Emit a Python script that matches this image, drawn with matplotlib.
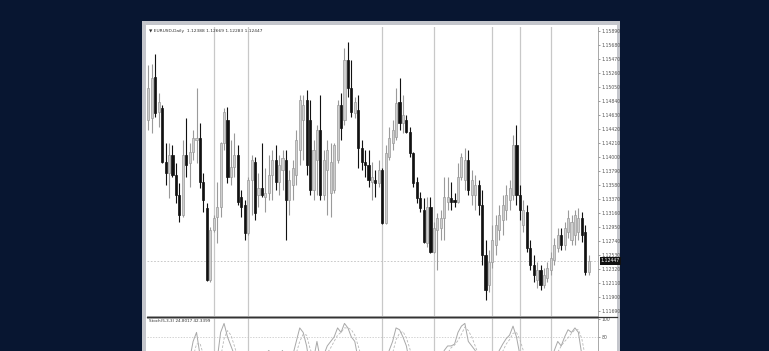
import matplotlib
matplotlib.use("Agg")
import matplotlib.pyplot as plt
from matplotlib.patches import Rectangle
from matplotlib.lines import Line2D

# ---------------- data (EURUSD daily candles) ----------------
opens = [1.14562, 1.14592, 1.15207, 1.14682, 1.14742, 1.13932, 1.13767, 1.14037, 1.13737, 1.13437,
         1.13137, 1.14037, 1.13917, 1.14082, 1.14262, 1.14292, 1.13632, 1.13242, 1.12162, 1.12912,
         1.13107, 1.13257, 1.14217, 1.14562, 1.13707, 1.13857, 1.14037, 1.13407, 1.13287, 1.12867,
         1.13662, 1.13932, 1.13437, 1.13542, 1.13407, 1.13467, 1.13737, 1.13962, 1.13632, 1.13812,
         1.13962, 1.13362, 1.13587, 1.13737, 1.14112, 1.14562, 1.14862, 1.14562, 1.13512, 1.13962,
         1.14412, 1.13437, 1.13812, 1.13467, 1.13512, 1.13962, 1.14787, 1.14562, 1.15462, 1.15042,
         1.14667, 1.14712, 1.14142, 1.13932, 1.13887, 1.13632, 1.13662, 1.13617, 1.13812, 1.13017,
         1.14007, 1.14217, 1.14307, 1.14832, 1.14517, 1.14562, 1.14382, 1.14067, 1.13632, 1.13392,
         1.13212, 1.12717, 1.13257, 1.12582, 1.12912, 1.12942, 1.13092, 1.13332, 1.13392, 1.13362,
         1.13332, 1.13707, 1.13662, 1.13962, 1.13437, 1.13437, 1.13587, 1.13287, 1.12537, 1.12087,
         1.12432, 1.12687, 1.12912, 1.13062, 1.13212, 1.13362, 1.13437, 1.14187, 1.13437, 1.12987,
         1.13182, 1.12642, 1.12387, 1.12162, 1.12312, 1.12087, 1.12192, 1.12312, 1.12462, 1.12642,
         1.12837, 1.12687, 1.12882, 1.12762, 1.12837, 1.12882, 1.13092, 1.12882, 1.12282]
highs = [1.15387, 1.15402, 1.15552, 1.14967, 1.14787, 1.14217, 1.14217, 1.14187, 1.13917, 1.13617,
         1.14262, 1.14592, 1.14217, 1.14412, 1.15042, 1.14517, 1.13767, 1.13317, 1.12957, 1.13137,
         1.13632, 1.14232, 1.14742, 1.14757, 1.14262, 1.14367, 1.14187, 1.13512, 1.13362, 1.13707,
         1.14037, 1.14007, 1.13767, 1.14217, 1.13842, 1.14037, 1.14112, 1.14187, 1.14037, 1.14112,
         1.14112, 1.13812, 1.13962, 1.14412, 1.14937, 1.14937, 1.15012, 1.14862, 1.14262, 1.14487,
         1.14937, 1.14112, 1.14262, 1.14217, 1.14217, 1.14862, 1.14967, 1.15642, 1.15732, 1.15462,
         1.14907, 1.14937, 1.14262, 1.14112, 1.14112, 1.13932, 1.13812, 1.13962, 1.13842, 1.14187,
         1.14457, 1.14562, 1.15042, 1.15192, 1.14937, 1.14637, 1.14457, 1.14082, 1.13707, 1.13482,
         1.13392, 1.13407, 1.13407, 1.13032, 1.13167, 1.13212, 1.13707, 1.13707, 1.13632, 1.13467,
         1.13917, 1.14067, 1.14142, 1.14112, 1.13812, 1.13737, 1.13662, 1.13512, 1.12762, 1.12612,
         1.12987, 1.13137, 1.13287, 1.13437, 1.13587, 1.13662, 1.14337, 1.14487, 1.13587, 1.13362,
         1.13287, 1.12762, 1.12537, 1.12432, 1.12387, 1.12342, 1.12432, 1.12582, 1.12792, 1.12942,
         1.12942, 1.13032, 1.13212, 1.13137, 1.13212, 1.13242, 1.13182, 1.12987, 1.12537]
lows = [1.14412, 1.14367, 1.14607, 1.14457, 1.13917, 1.13587, 1.13392, 1.13707, 1.13317, 1.13032,
        1.13107, 1.13707, 1.13557, 1.13962, 1.13917, 1.13542, 1.13182, 1.12147, 1.12132, 1.12882,
        1.12717, 1.13107, 1.14112, 1.13617, 1.13587, 1.13707, 1.13287, 1.13107, 1.12762, 1.12837,
        1.13137, 1.13062, 1.13257, 1.13407, 1.13182, 1.13362, 1.13362, 1.13512, 1.13437, 1.13512,
        1.12762, 1.13137, 1.13362, 1.13587, 1.13887, 1.13962, 1.13737, 1.13437, 1.13362, 1.13437,
        1.13362, 1.13362, 1.13137, 1.13107, 1.13467, 1.13917, 1.14262, 1.14487, 1.14907, 1.14607,
        1.14592, 1.13842, 1.13812, 1.13707, 1.13557, 1.13362, 1.13407, 1.13557, 1.13002, 1.13002,
        1.13962, 1.14112, 1.14262, 1.14412, 1.14367, 1.14367, 1.14007, 1.13557, 1.13317, 1.13182,
        1.12717, 1.12657, 1.12567, 1.12567, 1.12312, 1.12762, 1.12762, 1.13212, 1.13212, 1.13257,
        1.13317, 1.13662, 1.13512, 1.13437, 1.13287, 1.13212, 1.13137, 1.12387, 1.11862, 1.11982,
        1.12342, 1.12537, 1.12762, 1.12837, 1.13062, 1.13212, 1.13362, 1.13287, 1.13062, 1.12882,
        1.12582, 1.12312, 1.12132, 1.12042, 1.12012, 1.12042, 1.12132, 1.12237, 1.12387, 1.12582,
        1.12612, 1.12612, 1.12792, 1.12687, 1.12687, 1.12762, 1.12732, 1.12237, 1.12237]
closes = [1.15042, 1.15192, 1.14667, 1.14832, 1.13932, 1.13767, 1.14037, 1.13737, 1.13437, 1.13137,
          1.14037, 1.13887, 1.14082, 1.14292, 1.14292, 1.13632, 1.13362, 1.12162, 1.12912, 1.13092,
          1.13257, 1.14217, 1.14682, 1.13707, 1.13857, 1.14037, 1.13332, 1.13257, 1.12867, 1.13662,
          1.13962, 1.13167, 1.13542, 1.13437, 1.13467, 1.13737, 1.13962, 1.13632, 1.13887, 1.13992,
          1.13362, 1.13662, 1.13842, 1.14262, 1.14862, 1.14787, 1.13887, 1.13512, 1.14112, 1.14412,
          1.13437, 1.13962, 1.14112, 1.13932, 1.14187, 1.14787, 1.14442, 1.15462, 1.15042, 1.14682,
          1.14832, 1.14142, 1.13932, 1.13887, 1.13662, 1.13707, 1.13617, 1.13812, 1.13017, 1.14067,
          1.14292, 1.14412, 1.14817, 1.14517, 1.14637, 1.14382, 1.14067, 1.13617, 1.13392, 1.13242,
          1.12732, 1.13257, 1.12582, 1.12942, 1.13092, 1.13092, 1.13407, 1.13407, 1.13332, 1.13332,
          1.13707, 1.14007, 1.13962, 1.13512, 1.13662, 1.13587, 1.13287, 1.12537, 1.12012, 1.12432,
          1.12762, 1.12987, 1.13137, 1.13287, 1.13437, 1.13542, 1.14187, 1.13437, 1.13212, 1.13212,
          1.12642, 1.12387, 1.12237, 1.12312, 1.12087, 1.12237, 1.12342, 1.12492, 1.12687, 1.12837,
          1.12687, 1.12942, 1.13092, 1.13032, 1.13137, 1.13092, 1.12837, 1.12282, 1.12447]

stoch_main = [50, 55, 45, 40, 25, 15, 20, 15, 10, 8,
              40, 45, 55, 75, 85, 60, 35, 10, 20, 30,
              55, 85, 95, 80, 70, 60, 40, 25, 15, 40,
              55, 40, 45, 50, 60, 65, 60, 55, 60, 65,
              40, 50, 60, 75, 90, 85, 70, 45, 55, 75,
              55, 60, 70, 75, 80, 90, 85, 95, 90, 80,
              75, 55, 40, 30, 25, 30, 30, 40, 15, 45,
              65, 75, 90, 88, 80, 70, 50, 30, 20, 15,
              10, 25, 15, 30, 40, 50, 65, 70, 70, 72,
              85, 92, 95, 75, 70, 65, 45, 25, 10, 25,
              40, 55, 65, 72, 78, 82, 92, 80, 60, 55,
              35, 20, 15, 20, 20, 25, 35, 50, 65, 75,
              70, 80, 88, 85, 90, 85, 60, 30, 25]
stoch_signal = [50, 52, 50, 47, 40, 28, 20, 17, 15, 11,
                20, 31, 47, 58, 72, 73, 60, 35, 22, 20,
                35, 57, 78, 87, 82, 70, 57, 42, 27, 27,
                37, 45, 47, 45, 52, 58, 62, 60, 58, 60,
                55, 52, 50, 62, 75, 83, 82, 67, 57, 58,
                62, 63, 62, 68, 75, 82, 85, 90, 90, 88,
                82, 70, 57, 42, 32, 28, 28, 33, 28, 33,
                42, 62, 77, 84, 86, 79, 67, 50, 33, 22,
                15, 17, 17, 23, 28, 40, 52, 62, 68, 71,
                76, 83, 91, 87, 80, 70, 60, 45, 27, 20,
                25, 40, 53, 64, 72, 77, 84, 85, 77, 65,
                50, 37, 23, 18, 18, 22, 27, 37, 50, 63,
                70, 75, 79, 84, 88, 88, 78, 58, 38]

separator_bars = [19, 29, 68, 83, 100, 108, 117]
price_ticks = [1.15890, 1.15680, 1.15470, 1.15260, 1.15050, 1.14840, 1.14630, 1.14420, 1.14210,
               1.14000, 1.13790, 1.13580, 1.13370, 1.13160, 1.12950, 1.12740, 1.12530, 1.12320,
               1.12110, 1.11900, 1.11690]
current_price = 1.12447
header_text = "\u25bc EURUSD,Daily  1.12388 1.12669 1.12283 1.12447"
stoch_text = "Stoch(5,3,3) 24.8017 42.3399"
stoch_levels = [80, 20]
stoch_ticks = [100, 80]

# ---------------- layout helpers ----------------
W, H = 769, 351
fig = plt.figure(figsize=(W / 100, H / 100), dpi=100)
fig.patch.set_facecolor("#081631")


def fr(x0, y0, x1, y1):
    return [x0 / W, 1 - y1 / H, (x1 - x0) / W, (y1 - y0) / H]


# window frame
frame_ax = fig.add_axes([0, 0, 1, 1], zorder=0)
frame_ax.set_xlim(0, W)
frame_ax.set_ylim(H, 0)
frame_ax.axis("off")
frame_ax.add_patch(Rectangle((142, 21), 620 - 142, 360 - 21, facecolor="#c4c6cc", edgecolor="none"))
frame_ax.add_patch(Rectangle((146, 25), 617 - 146, 360 - 25, facecolor="white", edgecolor="none"))

n = len(opens)
xmin, xmax = -0.4, 130.7

# ---------------- main price panel ----------------
ax = fig.add_axes(fr(147, 27, 598, 316), zorder=2)
ax.set_facecolor("white")
ax.set_xlim(xmin, xmax)
ax.set_ylim(1.11622, 1.15957)

for b in separator_bars:
    ax.axvline(b, color="#c8c8c8", lw=0.9, zorder=1)
ax.axhline(current_price, color="#c0c0c0", lw=0.6, ls=(0, (2, 2)), zorder=1)

up_col, up_edge = "#cfcfcf", "#9a9a9a"
dn_col = "#111111"
bw = 0.62
for i in range(n):
    o, h, l, c = opens[i], highs[i], lows[i], closes[i]
    up = c >= o
    wc = up_edge if up else dn_col
    ax.vlines(i, l, h, color=wc, lw=0.8, zorder=2)
    lo_b, hi_b = min(o, c), max(o, c)
    ht = max(hi_b - lo_b, 0.00004)
    ax.bar(i, ht, bottom=lo_b, width=bw, color=up_col if up else dn_col,
           edgecolor=up_edge if up else dn_col, linewidth=0.5, zorder=3)

ax.yaxis.tick_right()
ax.set_yticks(price_ticks)
ax.set_yticklabels([f"{v:.5f}" for v in price_ticks])
ax.tick_params(axis="y", labelsize=3.3, length=1.5, width=0.4, pad=1.2, colors="#555555")
ax.set_xticks([])
for s in ax.spines.values():
    s.set_color("#9a9a9a")
    s.set_linewidth(0.6)
ax.spines["left"].set_visible(False)
ax.spines["top"].set_visible(False)

ax.text(0.004, 0.993, header_text, transform=ax.transAxes, fontsize=3.2, color="#333333",
        va="top", ha="left")
ax.text(1.006, current_price, f"{current_price:.5f}", transform=ax.get_yaxis_transform(),
        fontsize=3.3, color="white", va="center", ha="left",
        bbox=dict(boxstyle="square,pad=0.25", fc="#111111", ec="none"), zorder=5, clip_on=False)

# ---------------- stochastic panel ----------------
sx = fig.add_axes(fr(147, 318, 598, 412), zorder=2)
sx.set_facecolor("white")
sx.set_xlim(xmin, xmax)
sx.set_ylim(-3.3, 101.0)
for b in separator_bars:
    sx.axvline(b, color="#c8c8c8", lw=0.9, zorder=1)
for lv in stoch_levels:
    sx.axhline(lv, color="#c0c0c0", lw=0.5, ls=(0, (2, 2)), zorder=1)
xs = list(range(n))
sx.plot(xs, stoch_main, color="#a8a8a8", lw=0.7, zorder=3)
sx.plot(xs, stoch_signal, color="#b8b8b8", lw=0.6, ls=(0, (3, 2)), zorder=3)
sx.yaxis.tick_right()
sx.set_yticks(stoch_ticks)
sx.set_yticklabels([str(v) for v in stoch_ticks])
sx.tick_params(axis="y", labelsize=3.3, length=1.5, width=0.4, pad=1.2, colors="#555555")
sx.set_xticks([])
for s in sx.spines.values():
    s.set_color("#9a9a9a")
    s.set_linewidth(0.6)
sx.spines["left"].set_visible(False)
sx.text(0.004, 0.985, stoch_text, transform=sx.transAxes, fontsize=3.0, color="#333333",
        va="top", ha="left")

# separator between the two panels
fig.add_artist(Line2D([147 / W, 617 / W], [1 - 316.5 / H, 1 - 316.5 / H],
                      transform=fig.transFigure, color="#333333", lw=0.9, zorder=5))

fig.savefig("out.png", dpi=100, facecolor=fig.get_facecolor())
